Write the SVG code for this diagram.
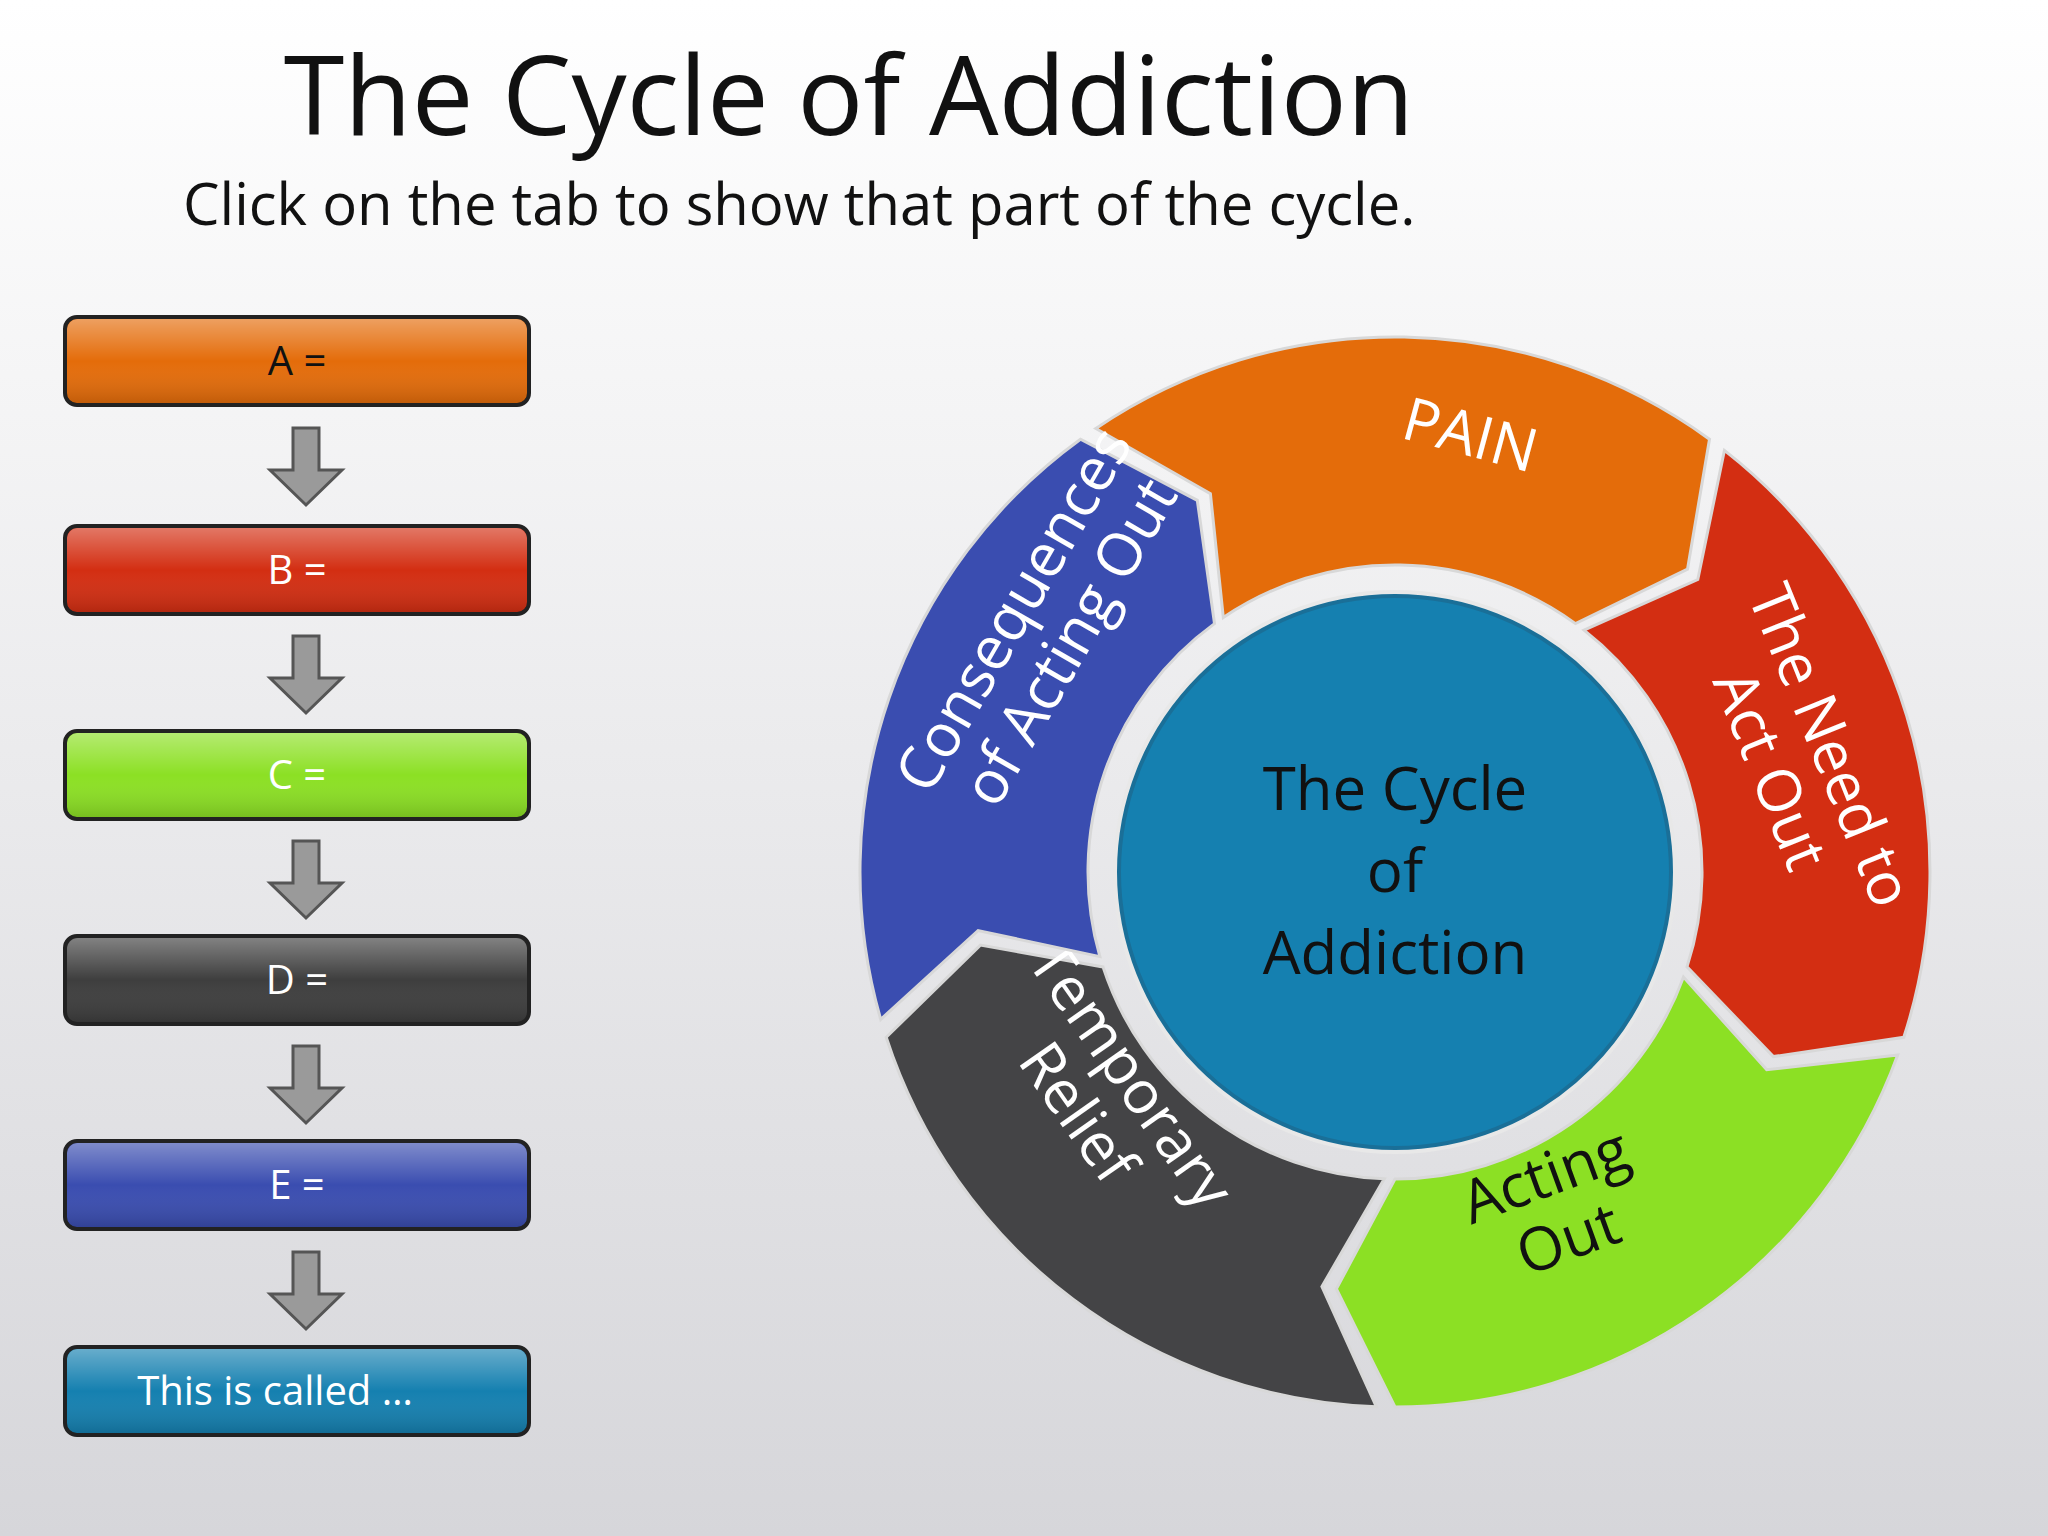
<svg xmlns="http://www.w3.org/2000/svg" xmlns:xlink="http://www.w3.org/1999/xlink" width="2048" height="1536" viewBox="0 0 2048 1536">
<defs>
<linearGradient id="bg" x1="0" y1="0" x2="0" y2="1"><stop offset="0" stop-color="#ffffff"/><stop offset="1" stop-color="#d6d6da"/></linearGradient>
<linearGradient id="gloss" x1="0" y1="0" x2="0" y2="1"><stop offset="0" stop-color="#fff" stop-opacity="0.35"/><stop offset="0.5" stop-color="#fff" stop-opacity="0"/><stop offset="1" stop-color="#000" stop-opacity="0.15"/></linearGradient>
<path id="darr" d="M293,0 H319 V42 H342 L306,77 L270,42 H293 Z" fill="#9a9a9a" stroke="#555" stroke-width="3"/>
</defs>
<style>
.t{font-family:"Open Sans","Liberation Sans",sans-serif}
.box{stroke:#222;stroke-width:4}
.lb{font-size:40px;text-anchor:middle;fill:#fff}
.seg{stroke:#d8d8d8;stroke-width:3}
.sl{font-size:60px;fill:#fff;text-anchor:middle}
</style>
<rect width="2048" height="1536" fill="url(#bg)"/>
<text class="t" x="849" y="135" font-size="110" text-anchor="middle" fill="#111">The Cycle of Addiction</text>
<text class="t" x="183" y="225" font-size="58" fill="#111">Click on the tab to show that part of the cycle.</text>

<g id="boxA"><rect class="box" x="65" y="317" width="464" height="88" rx="12" fill="#E46C0A"/><rect x="67" y="319" width="460" height="84" rx="11" fill="url(#gloss)"/><text class="t lb" x="297" y="375" fill="#111" style="fill:#111">A  =</text></g>
<g id="boxB"><rect class="box" x="65" y="526" width="464" height="88" rx="12" fill="#D32E12"/><rect x="67" y="528" width="460" height="84" rx="11" fill="url(#gloss)"/><text class="t lb" x="297" y="584">B =</text></g>
<g id="boxC"><rect class="box" x="65" y="731" width="464" height="88" rx="12" fill="#8CE024"/><rect x="67" y="733" width="460" height="84" rx="11" fill="url(#gloss)"/><text class="t lb" x="297" y="789">C =</text></g>
<g id="boxD"><rect class="box" x="65" y="936" width="464" height="88" rx="12" fill="#3E3E3E"/><rect x="67" y="938" width="460" height="84" rx="11" fill="url(#gloss)"/><text class="t lb" x="297" y="994">D =</text></g>
<g id="boxE"><rect class="box" x="65" y="1141" width="464" height="88" rx="12" fill="#3A4DB0"/><rect x="67" y="1143" width="460" height="84" rx="11" fill="url(#gloss)"/><text class="t lb" x="297" y="1199">E =</text></g>
<g id="boxF"><rect class="box" x="65" y="1347" width="464" height="88" rx="12" fill="#1580B0"/><rect x="67" y="1349" width="460" height="84" rx="11" fill="url(#gloss)"/><text class="t lb" x="275" y="1405">This is called …</text></g>

<g id="connectors">
<use xlink:href="#darr" y="428"/>
<use xlink:href="#darr" y="636"/>
<use xlink:href="#darr" y="841"/>
<use xlink:href="#darr" y="1046"/>
<use xlink:href="#darr" y="1252"/>
</g>

<g id="pain"><path class="seg" fill="#E46C0A" d="M1095.8,428.5 A535,535 0 0 1 1709.5,439.2 L1687.5,569.2 L1575.5,623.6 A307,307 0 0 0 1223.3,617.5 L1210.4,493.6 Z"/>
<text class="t sl" transform="translate(1465,455) rotate(15)">PAIN</text></g>
<g id="need"><path class="seg" fill="#D32E12" d="M1724.4,450.4 A535,535 0 0 1 1903.8,1037.3 L1773.4,1056.6 L1687,966.9 A307,307 0 0 0 1584,630.1 L1697.8,579.5 Z"/>
<text class="t sl" transform="translate(1802,757) rotate(68)"><tspan x="0" y="-10">The Need to</tspan><tspan x="0" y="55">Act Out</tspan></text></g>
<g id="acting"><path class="seg" fill="#8CE024" d="M1897.7,1055 A535,535 0 0 1 1395,1407 L1336.4,1288.9 L1395,1179 A307,307 0 0 0 1683.5,977 L1766.7,1069.7 Z"/>
<text class="t sl" transform="translate(1554,1200) rotate(-20)" style="fill:#111"><tspan x="0" y="-5">Acting</tspan><tspan x="0" y="62">Out</tspan></text></g>
<g id="relief"><path class="seg" fill="#444446" d="M1376.3,1406.7 A535,535 0 0 1 886.2,1037.3 L980.4,945.1 L1103,966.9 A307,307 0 0 0 1384.3,1178.8 L1321.9,1286.6 Z"/>
<text class="t sl" transform="translate(1110,1090) rotate(55)"><tspan x="0" y="-5">Temporary</tspan><tspan x="0" y="60">Relief</tspan></text></g>
<g id="consequences"><path class="seg" fill="#3A4DB0" d="M880.7,1019.4 A535,535 0 0 1 1080.5,439.2 L1197.3,500.3 L1214.5,623.6 A307,307 0 0 0 1099.9,956.6 L978.1,930.6 Z"/>
<text class="t sl" transform="translate(1040,625) rotate(-60)"><tspan x="0" y="-10">Consequences</tspan><tspan x="0" y="55">of Acting Out</tspan></text></g>
<g id="center"><circle cx="1395" cy="872" r="282" fill="#e8e8e8"/><circle cx="1395" cy="872" r="276" fill="#1580B0" stroke="#1a6f98" stroke-width="4"/>
<text class="t" font-size="60" text-anchor="middle" fill="#111"><tspan x="1395" y="810">The Cycle</tspan><tspan x="1395" y="892">of</tspan><tspan x="1395" y="974">Addiction</tspan></text></g>
</svg>
